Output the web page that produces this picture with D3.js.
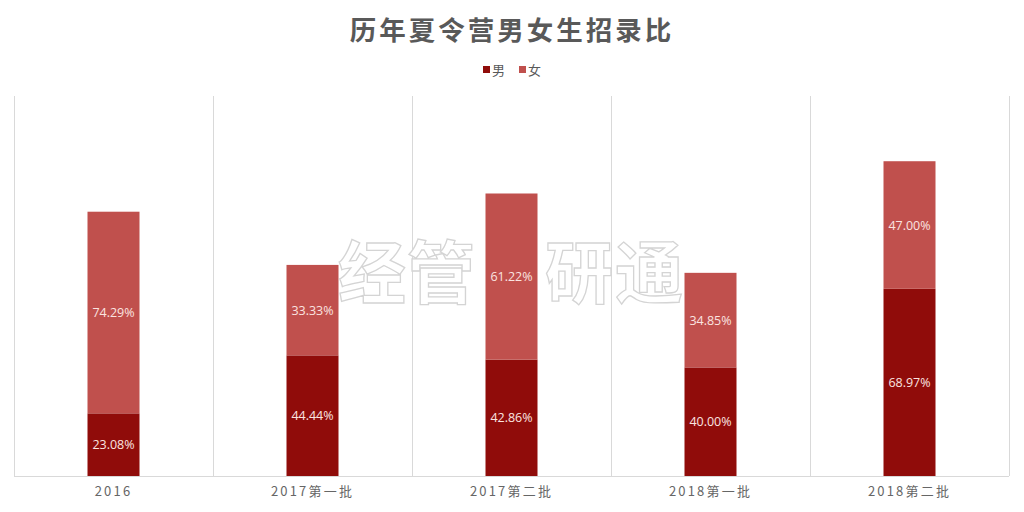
<!DOCTYPE html>
<html><head><meta charset="utf-8">
<script src="https://cdn.jsdelivr.net/npm/d3@7"></script>
<style>body{margin:0;background:#fff}svg{display:block}</style>
</head><body>
<svg id="c" width="1024" height="512"></svg>
<script>
const categories = ["2016","2017第一批","2017第二批","2018第一批","2018第二批"];
const male = [23.08, 44.44, 42.86, 40.00, 68.97];
const female = [74.29, 33.33, 61.22, 34.85, 47.00];
const seriesNames = ["男","女"];
const colors = ["#900C0A","#C0504D"];
const yMax = 140;
const watermarkChars = ["经","管","研","通"];

const svg = d3.select("#c");
const font = "'Noto Sans CJK SC','Microsoft YaHei',sans-serif";
const x = d3.scaleBand().domain(categories).range([14,1009]).paddingInner(0).paddingOuter(0);
const y = d3.scaleLinear().domain([0,yMax]).range([476,96]);

// gridlines (category boundaries)
const bounds = categories.map(c=>x(c)).concat([x.range()[1]]);
svg.append("g").selectAll("line").data(bounds).join("line")
  .attr("x1",d=>d+0.5).attr("x2",d=>d+0.5).attr("y1",96).attr("y2",476)
  .attr("stroke","#d9d9d9").attr("stroke-width",1);

// watermark (middle character is hidden behind the centre bar)
const wmX = [372, 441, 579, 649];
svg.append("g").selectAll("text").data(watermarkChars).join("text")
  .attr("x",(d,i)=>wmX[i]).attr("y",298).attr("text-anchor","middle")
  .attr("font-family",font).attr("font-size",68).attr("font-weight","bold")
  .attr("fill","#ffffff").attr("stroke","#d4d4d4").attr("stroke-width",1.3)
  .text(d=>d);

const data = categories.map((c,i)=>({c, m:male[i], f:female[i]}));
const stack = d3.stack().keys(["m","f"])(data);
const bw = 52;
const g = svg.append("g");
stack.forEach((layer,li)=>{
  g.append("g").selectAll("rect").data(layer).join("rect")
    .attr("x",d=>x(d.data.c)+x.bandwidth()/2-bw/2)
    .attr("width",bw)
    .attr("y",d=>y(d[1]))
    .attr("height",d=>y(d[0])-y(d[1]))
    .attr("fill",colors[li]);
  g.append("g").selectAll("text").data(layer).join("text")
    .attr("x",d=>x(d.data.c)+x.bandwidth()/2)
    .attr("y",d=>(y(d[0])+y(d[1]))/2+4.5)
    .attr("text-anchor","middle")
    .attr("font-family","'Open Sans',sans-serif").attr("font-size",12.5)
    .attr("fill","#fbe4e0")
    .text(d=>(d[1]-d[0]).toFixed(2)+"%");
});

// baseline axis
svg.append("line").attr("x1",14).attr("x2",1009).attr("y1",476.5).attr("y2",476.5)
  .attr("stroke","#d9d9d9");
const xAxis = d3.axisBottom(x).tickSize(0).tickPadding(10);
const ax = svg.append("g").attr("transform","translate(0,477)").call(xAxis);
ax.select(".domain").remove();
ax.selectAll("text").attr("font-family",font).attr("font-size",13)
  .attr("fill","#666666").attr("letter-spacing",2.2);

// title
svg.append("text").attr("x",512).attr("y",40).attr("text-anchor","middle")
  .attr("font-family",font).attr("font-size",26.5).attr("font-weight","bold")
  .attr("fill","#595959").attr("letter-spacing",3).text("历年夏令营男女生招录比");

// legend
const legend = svg.append("g");
const lx = [483, 519];
seriesNames.forEach((n,i)=>{
  legend.append("rect").attr("x",lx[i]).attr("y",66).attr("width",7).attr("height",7).attr("fill",colors[i]);
  legend.append("text").attr("x",lx[i]+9).attr("y",75).attr("font-family",font)
    .attr("font-size",13).attr("fill","#595959").text(n);
});
</script>
</body></html>
